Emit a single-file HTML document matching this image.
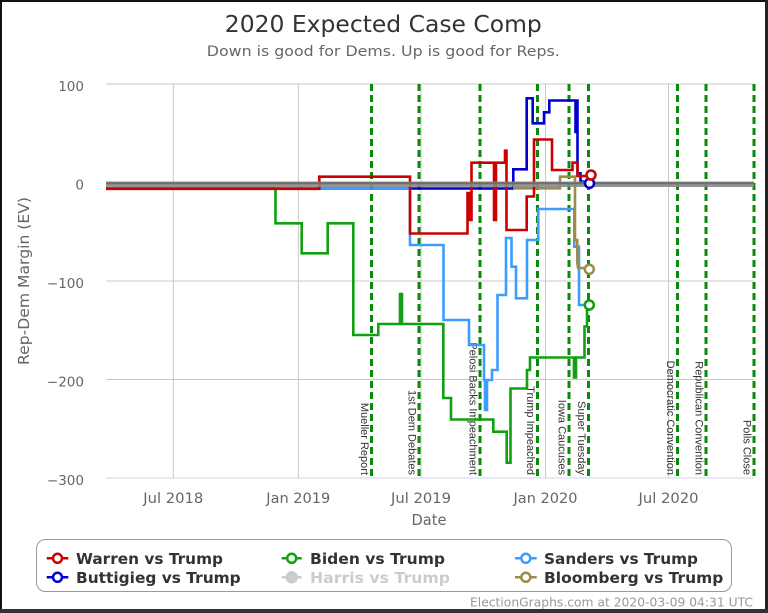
<!DOCTYPE html>
<html><head><meta charset="utf-8"><style>
html,body{margin:0;padding:0;background:#fff;}
svg{display:block;}
</style></head><body>
<svg width="768" height="613" viewBox="0 0 768 613" xmlns="http://www.w3.org/2000/svg">
<rect width="768" height="613" fill="#fff"/>

<!-- Title -->
<text x="383.3" y="32" text-anchor="middle" font-family="DejaVu Sans, sans-serif" font-size="23" fill="#333" textLength="317" lengthAdjust="spacingAndGlyphs">2020 Expected Case Comp</text>
<text x="383.3" y="56" text-anchor="middle" font-family="DejaVu Sans, sans-serif" font-size="14" fill="#666" textLength="353" lengthAdjust="spacingAndGlyphs">Down is good for Dems. Up is good for Reps.</text>

<!-- gridlines -->
<g stroke="#c8c8c8" stroke-width="1">
<line x1="106" y1="84" x2="754" y2="84"/>
<line x1="106" y1="182.5" x2="754" y2="182.5"/>
<line x1="106" y1="281" x2="754" y2="281"/>
<line x1="106" y1="379.5" x2="754" y2="379.5"/>
<line x1="173.3" y1="84" x2="173.3" y2="478"/>
<line x1="298.3" y1="84" x2="298.3" y2="478"/>
<line x1="421" y1="84" x2="421" y2="478"/>
<line x1="545.5" y1="84" x2="545.5" y2="478"/>
<line x1="668.5" y1="84" x2="668.5" y2="478"/>
</g>
<line x1="106" y1="478" x2="754" y2="478" stroke="#ccd6eb" stroke-width="1"/>

<!-- y labels -->
<g font-family="DejaVu Sans, sans-serif" font-size="13.5" fill="#666" text-anchor="end">
<text x="84" y="91">100</text>
<text x="84" y="189.5">0</text>
<text x="84" y="288">−100</text>
<text x="84" y="386.5">−200</text>
<text x="84" y="485">−300</text>
</g>
<text transform="translate(29,281) rotate(-90)" text-anchor="middle" font-family="DejaVu Sans, sans-serif" font-size="15.5" fill="#666" textLength="168" lengthAdjust="spacingAndGlyphs">Rep-Dem Margin (EV)</text>

<!-- x labels -->
<g font-family="DejaVu Sans, sans-serif" font-size="14" fill="#666" text-anchor="middle">
<text x="173.3" y="503" textLength="60" lengthAdjust="spacingAndGlyphs">Jul 2018</text>
<text x="298.3" y="503" textLength="64" lengthAdjust="spacingAndGlyphs">Jan 2019</text>
<text x="421" y="503" textLength="60" lengthAdjust="spacingAndGlyphs">Jul 2019</text>
<text x="545.5" y="503" textLength="64" lengthAdjust="spacingAndGlyphs">Jan 2020</text>
<text x="668.5" y="503" textLength="60" lengthAdjust="spacingAndGlyphs">Jul 2020</text>
</g>
<text x="429" y="525" text-anchor="middle" font-family="DejaVu Sans, sans-serif" font-size="15" fill="#666" textLength="35" lengthAdjust="spacingAndGlyphs">Date</text>

<!-- event lines -->
<g stroke="#0a8a0a" stroke-width="3" stroke-dasharray="7,4">
<line x1="371.5" y1="84" x2="371.5" y2="478"/>
<line x1="419" y1="84" x2="419" y2="478"/>
<line x1="480" y1="84" x2="480" y2="478"/>
<line x1="537.5" y1="84" x2="537.5" y2="478"/>
<line x1="569" y1="84" x2="569" y2="478"/>
<line x1="588.5" y1="84" x2="588.5" y2="478"/>
<line x1="677.5" y1="84" x2="677.5" y2="478"/>
<line x1="706" y1="84" x2="706" y2="478"/>
<line x1="754" y1="84" x2="754" y2="478"/>
</g>
<g font-family="Liberation Sans, sans-serif" font-size="11" fill="#333" text-anchor="end">
<text transform="translate(361,475) rotate(90)">Mueller Report</text>
<text transform="translate(408.5,475) rotate(90)">1st Dem Debates</text>
<text transform="translate(469.5,475) rotate(90)">Pelosi Backs Impeachment</text>
<text transform="translate(527,475) rotate(90)">Trump Impeached</text>
<text transform="translate(558.5,475) rotate(90)">Iowa Caucuses</text>
<text transform="translate(578,475) rotate(90)">Super Tuesday</text>
<text transform="translate(667,475) rotate(90)">Democratic Convention</text>
<text transform="translate(695.5,475) rotate(90)">Republican Convention</text>
<text transform="translate(743.5,475) rotate(90)">Polls Close</text>
</g>

<!-- series -->
<g fill="none" stroke-width="2.6" stroke-linejoin="miter">
<path stroke="#11a011" d="M106,188.5 H275.5 V223.3 H301.7 V253.3 H327.7 V223.3 H353.3 V335 H378.3 V324 H400 V294 H402 V324 H443.3 V398 H451 V419.5 H493.3 V431.7 H506.7 V462.7 H510.5 V388.5 H527 V370 H530 V357.5 H574 V377.5 H576 V357.5 H584.5 V326.5 H587 V305"/>
<path stroke="#0000cc" d="M106,188.5 H513.3 V169.3 H526.7 V98.3 H532.7 V123.3 H544 V112.3 H549.3 V100.5 H575.5 V132 H576.5 V100.5 H577.5 V173.3 H580.5 V181 L589.5,183.3"/>
<path stroke="#3d9cff" d="M106,188.5 H410 V245 H443.5 V320 H469 V345 H484 V380 H485 V410 H487 V380 H492 V370 H497.5 V295 H506 V238 H511.5 V266.7 H516 V298.3 H527 V240 H538.3 V209 H574.3 V246.7 H579 V305 H589"/>
<path stroke="#9c8c48" d="M513,188.3 H560 V176.7 H575 V240 H577.3 V262 L578,268 H589.3"/>
<path stroke="#cc0000" d="M106,188.8 H319.3 V176.7 H410 V233.5 H467.5 V193 H469.5 V220 H471.5 V162.7 H494 V220 H496 V162.7 H505 V150.7 H506.5 V230 H526.7 V196.5 H534 V139.5 H552 V170 H572.5 V162.7 H577.5 V176 H591"/>
</g>

<!-- gray band -->
<rect x="106" y="181.5" width="648" height="5.5" fill="#8a8a8a" opacity="0.9"/>
<line x1="106" y1="183.3" x2="754" y2="183.3" stroke="#6c6c6c" stroke-width="2"/>

<!-- end markers -->
<g fill="#fff" stroke-width="2.5">
<circle cx="589.5" cy="183.3" r="4.5" stroke="#0000cc"/>
<circle cx="591" cy="175" r="4.5" stroke="#cc0000"/>
<circle cx="589.3" cy="269.3" r="4.5" stroke="#9c8c48"/>
<circle cx="589.3" cy="305" r="4.5" stroke="#11a011"/>
</g>

<!-- legend -->
<rect x="36.5" y="539.5" width="695" height="52" rx="9" ry="9" fill="#fff" stroke="#999" stroke-width="1"/>
<g stroke-width="2.5">
<line x1="46.7" y1="558.3" x2="68.3" y2="558.3" stroke="#cc0000"/>
<circle cx="57.5" cy="558.3" r="4.5" fill="#fff" stroke="#cc0000"/>
<line x1="46.7" y1="577.3" x2="68.3" y2="577.3" stroke="#0000cc"/>
<circle cx="57.5" cy="577.3" r="4.5" fill="#fff" stroke="#0000cc"/>
<line x1="281.7" y1="558.3" x2="301.7" y2="558.3" stroke="#11a011"/>
<circle cx="291.7" cy="558.3" r="4.5" fill="#fff" stroke="#11a011"/>
<line x1="281.7" y1="577.3" x2="301.7" y2="577.3" stroke="#cccccc"/>
<circle cx="291.7" cy="577.3" r="5" fill="#cccccc" stroke="#cccccc"/>
<line x1="515" y1="558.3" x2="536.7" y2="558.3" stroke="#3d9cff"/>
<circle cx="525.8" cy="558.3" r="4.5" fill="#fff" stroke="#3d9cff"/>
<line x1="515" y1="577.3" x2="536.7" y2="577.3" stroke="#9c8c48"/>
<circle cx="525.8" cy="577.3" r="4.5" fill="#fff" stroke="#9c8c48"/>
</g>
<g font-family="DejaVu Sans, sans-serif" font-size="15" font-weight="bold" fill="#333">
<text x="76" y="564" textLength="147" lengthAdjust="spacingAndGlyphs">Warren vs Trump</text>
<text x="76" y="583" textLength="164.7" lengthAdjust="spacingAndGlyphs">Buttigieg vs Trump</text>
<text x="310" y="564" textLength="135" lengthAdjust="spacingAndGlyphs">Biden vs Trump</text>
<text x="310" y="583" textLength="140" lengthAdjust="spacingAndGlyphs" fill="#cccccc">Harris vs Trump</text>
<text x="544" y="564" textLength="154" lengthAdjust="spacingAndGlyphs">Sanders vs Trump</text>
<text x="544" y="583" textLength="179.3" lengthAdjust="spacingAndGlyphs">Bloomberg vs Trump</text>
</g>

<!-- footer -->
<text x="753" y="606.5" text-anchor="end" font-family="DejaVu Sans, sans-serif" font-size="12" fill="#999" textLength="283" lengthAdjust="spacingAndGlyphs">ElectionGraphs.com at 2020-03-09 04:31 UTC</text>

<!-- outer frame -->
<rect x="0" y="0" width="768" height="2" fill="#111"/>
<rect x="0" y="0" width="2" height="613" fill="#111"/>
<rect x="765" y="0" width="3" height="613" fill="#222"/>
<rect x="0" y="609" width="768" height="4" fill="#333"/>
</svg>
</body></html>
